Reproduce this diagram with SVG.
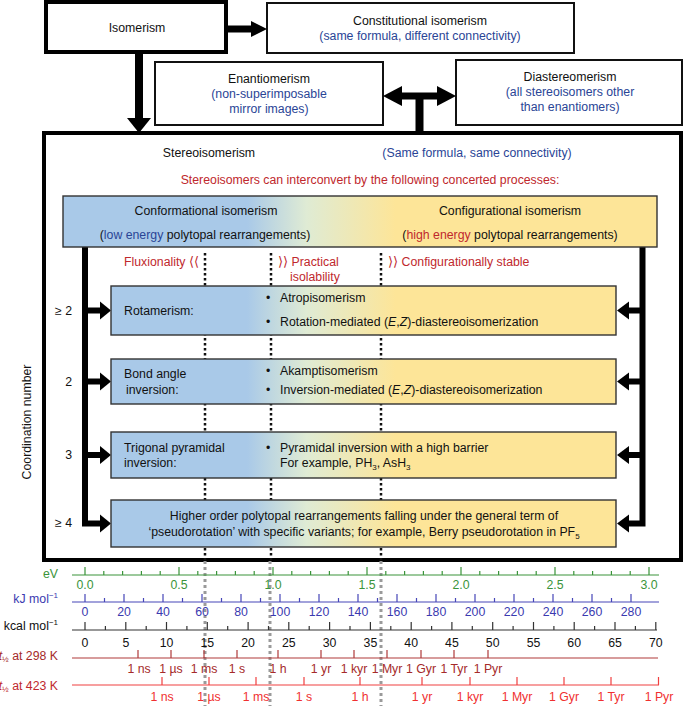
<svg xmlns="http://www.w3.org/2000/svg" width="685" height="706" viewBox="0 0 685 706">
<defs>
<linearGradient id="grad" gradientUnits="userSpaceOnUse" x1="63" y1="0" x2="657" y2="0">
<stop offset="0" stop-color="#a9c9e8"/>
<stop offset="0.31" stop-color="#a9c9e8"/>
<stop offset="0.41" stop-color="#dfebd4"/>
<stop offset="0.56" stop-color="#fde598"/>
<stop offset="1" stop-color="#fde598"/>
</linearGradient>
<style>
text{font-family:"Liberation Sans",Arial,sans-serif;font-size:12.3px;fill:#111}
.c{text-anchor:middle}
.e{text-anchor:end}
.bl{fill:#2a4596}
.rd{fill:#c0282d}
.br{font-family:"DejaVu Sans",sans-serif;font-size:13px}
.box{fill:#fff;stroke:#111;stroke-width:2}
.gbox{fill:url(#grad);stroke:#333;stroke-width:1.4}
.dot{stroke:#111;stroke-width:2.5;stroke-dasharray:2.5 2.5;fill:none}
.gdot{stroke:#9a9a9a;stroke-width:3;stroke-dasharray:3 3;fill:none}
.thick{stroke:#000;fill:none}
.ev{stroke:#3a943a;stroke-width:1.2}
.kj{stroke:#4646b8;stroke-width:1.2}
.kc{stroke:#333;stroke-width:1.2}
.t1{stroke:#b03a3a;stroke-width:1.2}
.t2{stroke:#f04040;stroke-width:1.2}
.evt{fill:#3a943a}
.kjt{fill:#3a3ab0}
.t1t{fill:#a52a2a}
.t2t{fill:#f03030}
</style>
</defs>

<!-- Top nodes -->
<g id="isomerism">
<rect x="46" y="2" width="180" height="50" fill="#fff" stroke="#000" stroke-width="4"/>
<text class="c" x="137" y="32">Isomerism</text>
</g>
<g id="constitutional">
<rect class="box" x="267" y="3" width="307" height="50"/>
<text class="c" x="420" y="25">Constitutional isomerism</text>
<text class="c bl" x="420" y="40">(same formula, different connectivity)</text>
</g>
<g id="enantiomerism">
<rect class="box" x="155" y="62" width="228" height="63"/>
<text class="c" x="269" y="83">Enantiomerism</text>
<text class="c bl" x="269" y="98">(non-superimposable</text>
<text class="c bl" x="269" y="113">mirror images)</text>
</g>
<g id="diastereomerism">
<rect class="box" x="456" y="60" width="226" height="65"/>
<text class="c" x="570" y="81">Diastereomerism</text>
<text class="c bl" x="570" y="96">(all stereoisomers other</text>
<text class="c bl" x="570" y="111">than enantiomers)</text>
</g>

<!-- Stereoisomerism frame -->
<g id="stereoisomerism">
<rect x="44" y="133" width="637" height="427" fill="#fff" stroke="#000" stroke-width="4"/>
<text class="c" x="209" y="157">Stereoisomerism</text>
<text class="c bl" x="477" y="157">(Same formula, same connectivity)</text>
<text class="c rd" x="370" y="184">Stereoisomers can interconvert by the following concerted processes:</text>
</g>

<!-- connectors -->
<g id="connectors">
<line class="thick" x1="228" y1="29" x2="253" y2="29" stroke-width="7"/>
<polygon points="251,21 267,29 251,37" fill="#000"/>
<line class="thick" x1="139" y1="53" x2="139" y2="120" stroke-width="8"/>
<polygon points="127,118 151,118 139,133" fill="#000"/>
<line class="thick" x1="400" y1="96" x2="439" y2="96" stroke-width="7"/>
<polygon points="402,86 383,96 402,106" fill="#000"/>
<polygon points="437,86 456,96 437,106" fill="#000"/>
<line class="thick" x1="419.5" y1="96" x2="419.5" y2="133" stroke-width="8"/>
<!-- dotted boundaries -->
<line class="dot" x1="205" y1="253" x2="205" y2="560"/>
<line class="dot" x1="271" y1="253" x2="271" y2="560"/>
<line class="dot" x1="381" y1="253" x2="381" y2="560"/>
<!-- coordination bars -->
<path class="thick" d="M85,247 V523.5 H101" stroke-width="6"/>
<line class="thick" x1="85" y1="310.5" x2="101" y2="310.5" stroke-width="6"/>
<line class="thick" x1="85" y1="381.5" x2="101" y2="381.5" stroke-width="6"/>
<line class="thick" x1="85" y1="455" x2="101" y2="455" stroke-width="6"/>
<polygon points="100,301.5 111,310.5 100,319.5" fill="#000"/>
<polygon points="100,372.5 111,381.5 100,390.5" fill="#000"/>
<polygon points="100,446 111,455 100,464" fill="#000"/>
<polygon points="100,514.5 111,523.5 100,532.5" fill="#000"/>
<path class="thick" d="M642.5,247 V523.5 H627" stroke-width="6"/>
<line class="thick" x1="642.5" y1="310.5" x2="627" y2="310.5" stroke-width="6"/>
<line class="thick" x1="642.5" y1="381.5" x2="627" y2="381.5" stroke-width="6"/>
<line class="thick" x1="642.5" y1="455" x2="627" y2="455" stroke-width="6"/>
<polygon points="629,301.5 617,310.5 629,319.5" fill="#000"/>
<polygon points="629,372.5 617,381.5 629,390.5" fill="#000"/>
<polygon points="629,446 617,455 629,464" fill="#000"/>
<polygon points="629,514.5 617,523.5 629,532.5" fill="#000"/>
<!-- gray dotted lines on axes -->
<line class="gdot" x1="205" y1="561" x2="205" y2="706"/>
<line class="gdot" x1="270" y1="561" x2="270" y2="706"/>
<line class="gdot" x1="381" y1="561" x2="381" y2="706"/>
</g>

<g id="header">
<rect class="gbox" x="63" y="196" width="594" height="51"/>
<text class="c" x="206" y="215">Conformational isomerism</text>
<text class="c" x="205" y="239">(<tspan class="bl">low energy</tspan> polytopal rearrangements)</text>
<text class="c" x="510" y="215">Configurational isomerism</text>
<text class="c" x="510" y="239">(<tspan class="rd">high energy</tspan> polytopal rearrangements)</text>
</g>

<g id="regimes">
<text class="rd" x="124" y="266">Fluxionality <tspan class="br">⟨⟨</tspan></text>
<text class="rd" x="278" y="266"><tspan class="br">⟩⟩</tspan> Practical</text>
<text class="rd" x="290" y="281">isolability</text>
<text class="rd" x="388" y="266"><tspan class="br">⟩⟩</tspan> Configurationally stable</text>
</g>

<g id="row-rotamerism">
<rect class="gbox" x="111" y="286" width="505" height="49"/>
<text x="124" y="315">Rotamerism:</text>
<text x="266" y="302">•</text><text x="280" y="302">Atropisomerism</text>
<text x="266" y="326">•</text><text x="280" y="326">Rotation-mediated (<tspan font-style="italic">E</tspan>,<tspan font-style="italic">Z</tspan>)-diastereoisomerization</text>
<text class="e" x="72" y="315">≥ 2</text>
</g>
<g id="row-bond-angle">
<rect class="gbox" x="111" y="359" width="505" height="45"/>
<text x="124" y="378">Bond angle</text>
<text x="126" y="394">inversion:</text>
<text x="266" y="375">•</text><text x="280" y="375">Akamptisomerism</text>
<text x="266" y="394">•</text><text x="280" y="394">Inversion-mediated (<tspan font-style="italic">E</tspan>,<tspan font-style="italic">Z</tspan>)-diastereoisomerization</text>
<text class="e" x="72" y="386">2</text>
</g>
<g id="row-trigonal">
<rect class="gbox" x="111" y="432" width="505" height="46"/>
<text x="124" y="452">Trigonal pyramidal</text>
<text x="124" y="467">inversion:</text>
<text x="266" y="452">•</text><text x="280" y="452">Pyramidal inversion with a high barrier</text>
<text x="280" y="467">For example, PH<tspan font-size="8" dy="3">3</tspan><tspan dy="-3">, AsH</tspan><tspan font-size="8" dy="3">3</tspan></text>
<text class="e" x="72" y="459">3</text>
</g>
<g id="row-pseudorotation">
<rect class="gbox" x="111" y="500" width="505" height="47"/>
<text class="c" x="364" y="520">Higher order polytopal rearrangements falling under the general term of</text>
<text class="c" x="364" y="536">‘pseudorotation’ with specific variants; for example, Berry pseudorotation in PF<tspan font-size="8" dy="3">5</tspan></text>
<text class="e" x="72" y="527">≥ 4</text>
</g>

<g id="coordination-label">
<text class="c" transform="translate(31,422) rotate(-90)">Coordination number</text>
</g>

<!-- Axes -->
<g id="axis-ev">
<text class="e evt" x="58" y="578">eV</text>
<line class="ev" x1="72" y1="575" x2="659" y2="575"/>
<path class="ev" d="M85,567V575 M179,567V575 M273,567V575 M367,567V575 M461,567V575 M555,567V575 M649,567V575
M103.8,571V575 M122.6,571V575 M141.4,571V575 M160.2,571V575
M197.8,571V575 M216.6,571V575 M235.4,571V575 M254.2,571V575
M291.8,571V575 M310.6,571V575 M329.4,571V575 M348.2,571V575
M385.8,571V575 M404.6,571V575 M423.4,571V575 M442.2,571V575
M479.8,571V575 M498.6,571V575 M517.4,571V575 M536.2,571V575
M573.8,571V575 M592.6,571V575 M611.4,571V575 M630.2,571V575"/>
<text class="c evt" x="85" y="589">0.0</text>
<text class="c evt" x="179" y="589">0.5</text>
<text class="c evt" x="273" y="589">1.0</text>
<text class="c evt" x="367" y="589">1.5</text>
<text class="c evt" x="461" y="589">2.0</text>
<text class="c evt" x="555" y="589">2.5</text>
<text class="c evt" x="649" y="589">3.0</text>
</g>

<g id="axis-kj">
<text class="e kjt" x="58" y="603">kJ mol<tspan font-size="8" dy="-5">−1</tspan></text>
<line class="kj" x1="72" y1="602" x2="659" y2="602"/>
<path class="kj" d="M85,594V602 M124,594V602 M163,594V602 M202,594V602 M241,594V602 M280,594V602 M319,594V602 M358,594V602 M397,594V602 M436,594V602 M475,594V602 M514,594V602 M553,594V602 M592,594V602 M631,594V602
M104.5,598V602 M143.5,598V602 M182.5,598V602 M221.5,598V602 M260.5,598V602 M299.5,598V602 M338.5,598V602 M377.5,598V602 M416.5,598V602 M455.5,598V602 M494.5,598V602 M533.5,598V602 M572.5,598V602 M611.5,598V602"/>
<text class="c kjt" x="85" y="616">0</text>
<text class="c kjt" x="124" y="616">20</text>
<text class="c kjt" x="163" y="616">40</text>
<text class="c kjt" x="202" y="616">60</text>
<text class="c kjt" x="241" y="616">80</text>
<text class="c kjt" x="280" y="616">100</text>
<text class="c kjt" x="319" y="616">120</text>
<text class="c kjt" x="358" y="616">140</text>
<text class="c kjt" x="397" y="616">160</text>
<text class="c kjt" x="436" y="616">180</text>
<text class="c kjt" x="475" y="616">200</text>
<text class="c kjt" x="514" y="616">220</text>
<text class="c kjt" x="553" y="616">240</text>
<text class="c kjt" x="592" y="616">260</text>
<text class="c kjt" x="631" y="616">280</text>
</g>

<g id="axis-kcal">
<text class="e" x="58" y="630">kcal mol<tspan font-size="8" dy="-5">−1</tspan></text>
<line class="kc" x1="72" y1="630" x2="657" y2="630"/>
<path class="kc" d="M85,622V630 M125.8,622V630 M166.5,622V630 M207.3,622V630 M248.1,622V630 M288.8,622V630 M329.6,622V630 M370.4,622V630 M411.2,622V630 M451.9,622V630 M492.7,622V630 M533.5,622V630 M574.2,622V630 M615,622V630 M655.8,622V630
M105.4,626V630 M146.2,626V630 M186.9,626V630 M227.7,626V630 M268.5,626V630 M309.2,626V630 M350,626V630 M390.8,626V630 M431.6,626V630 M472.3,626V630 M513.1,626V630 M553.9,626V630 M594.6,626V630 M635.4,626V630"/>
<text class="c" x="85" y="647">0</text>
<text class="c" x="125.8" y="647">5</text>
<text class="c" x="166.5" y="647">10</text>
<text class="c" x="207.3" y="647">15</text>
<text class="c" x="248.1" y="647">20</text>
<text class="c" x="288.8" y="647">25</text>
<text class="c" x="329.6" y="647">30</text>
<text class="c" x="370.4" y="647">35</text>
<text class="c" x="411.2" y="647">40</text>
<text class="c" x="451.9" y="647">45</text>
<text class="c" x="492.7" y="647">50</text>
<text class="c" x="533.5" y="647">55</text>
<text class="c" x="574.2" y="647">60</text>
<text class="c" x="615" y="647">65</text>
<text class="c" x="655.8" y="647">70</text>
</g>

<g id="axis-t298">
<text class="e t1t" x="58" y="660"><tspan font-style="italic">t</tspan><tspan font-size="8" dy="2">½</tspan><tspan dy="-2"> at 298 K</tspan></text>
<line class="t1" x1="72" y1="658" x2="658" y2="658"/>
<path class="t1" d="M138,650V658 M171,650V658 M204,650V658 M237,650V658 M278,650V658 M321,650V658 M354,650V658 M387,650V658 M421,650V658 M454,650V658 M488,650V658"/>
<text class="c t1t" x="139" y="673">1 ns</text>
<text class="c t1t" x="171" y="673">1 µs</text>
<text class="c t1t" x="204" y="673">1 ms</text>
<text class="c t1t" x="237" y="673">1 s</text>
<text class="c t1t" x="278" y="673">1 h</text>
<text class="c t1t" x="321" y="673">1 yr</text>
<text class="c t1t" x="354" y="673">1 kyr</text>
<text class="c t1t" x="387" y="673">1 Myr</text>
<text class="c t1t" x="421" y="673">1 Gyr</text>
<text class="c t1t" x="454" y="673">1 Tyr</text>
<text class="c t1t" x="488" y="673">1 Pyr</text>
</g>

<g id="axis-t423">
<text class="e" x="58" y="690" style="fill:#c0282d"><tspan font-style="italic">t</tspan><tspan font-size="8" dy="2">½</tspan><tspan dy="-2"> at 423 K</tspan></text>
<line class="t2" x1="72" y1="685" x2="659" y2="685"/>
<path class="t2" d="M162,677V685 M209,677V685 M256,677V685 M304,677V685 M360,677V685 M422,677V685 M470,677V685 M517,677V685 M564,677V685 M611,677V685 M658.5,677V685"/>
<text class="c t2t" x="162" y="701">1 ns</text>
<text class="c t2t" x="209" y="701">1 µs</text>
<text class="c t2t" x="256" y="701">1 ms</text>
<text class="c t2t" x="304" y="701">1 s</text>
<text class="c t2t" x="360" y="701">1 h</text>
<text class="c t2t" x="422" y="701">1 yr</text>
<text class="c t2t" x="470" y="701">1 kyr</text>
<text class="c t2t" x="517" y="701">1 Myr</text>
<text class="c t2t" x="564" y="701">1 Gyr</text>
<text class="c t2t" x="611" y="701">1 Tyr</text>
<text class="c t2t" x="659" y="701">1 Pyr</text>
</g>
</svg>
